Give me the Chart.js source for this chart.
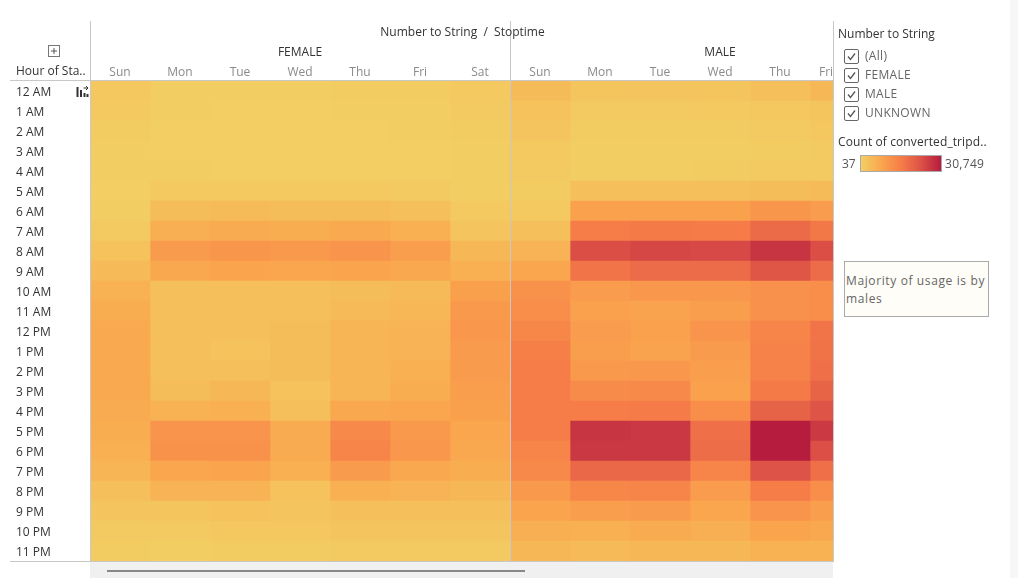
<!DOCTYPE html>
<html>
<head>
<meta charset="utf-8">
<script src="https://cdn.jsdelivr.net/npm/chart.js@4"></script>
<style>
body { margin: 0; background: #fff; font-family: "Open Sans", sans-serif; font-size: 12px; color: #333; overflow: hidden; }
.abs { position: absolute; white-space: nowrap; line-height: 16px; }
#plot { position: absolute; left: 0; top: 0; width: 834px; height: 562px; overflow: hidden; }
.check { position: absolute; left: 844px; width: 13px; height: 13px; border: 1px solid #666; border-radius: 2px; }
.check svg { display: block; }
</style>
</head>
<body>
<div id="plot"><canvas id="heat" width="930" height="562"></canvas></div>

<div class="abs" style="left:91px;width:743px;top:24px;text-align:center;color:#333">Number to String&nbsp; /&nbsp; Stoptime</div>
<div class="abs" style="left:16px;top:63px;color:#333">Hour of Sta..</div>
<div class="abs" style="left:819px;top:64px;width:14px;overflow:hidden;color:#8a8a8a">Fri</div>
<svg class="abs" style="left:48px;top:45px" width="13" height="13"><rect x="0.5" y="0.5" width="11" height="11" fill="none" stroke="#777"/><path d="M3 6h6M6 3v6" stroke="#555"/></svg>
<svg class="abs" style="left:76px;top:85px" width="13" height="13"><path d="M1.5 2v10M5 5v7M8.5 8v4M11.5 9v3" stroke="#333" stroke-width="2"/><path d="M7.5 3h4M10 1l2 2-2 2" fill="none" stroke="#333"/></svg>

<div class="abs" style="left:90px;top:562px;width:743px;height:16px;background:#f0f0f0"></div>
<div class="abs" style="left:107px;top:570px;width:418px;height:2px;background:#888"></div>
<div class="abs" style="left:1010px;top:0;width:8px;height:578px;background:#f7f7f7"></div>

<div class="abs" style="left:838px;top:26px;color:#333">Number to String</div>
<div id="filters"></div>
<div class="abs" style="left:838px;top:134px;color:#333;letter-spacing:0.1px">Count of converted_tripd..</div>
<div class="abs" style="left:842px;top:156px;color:#555">37</div>
<div class="abs" id="ramp" style="left:860px;top:155px;width:80px;height:15px;border:1px solid #aaa"></div>
<div class="abs" style="left:945px;top:156px;color:#555;letter-spacing:0.3px">30,749</div>
<div class="abs" style="left:844px;top:261px;width:143px;height:54px;border:1px solid #aaa;background:#fffdf7;color:#666;white-space:normal">
  <div style="padding:10px 0 0 1px;line-height:18px;letter-spacing:0.62px">Majority of usage is by males</div>
</div>

<script>
const hours = ["12 AM", "1 AM", "2 AM", "3 AM", "4 AM", "5 AM", "6 AM", "7 AM", "8 AM", "9 AM", "10 AM", "11 AM",
    "12 PM", "1 PM", "2 PM", "3 PM", "4 PM", "5 PM", "6 PM", "7 PM", "8 PM", "9 PM", "10 PM", "11 PM"];
const dayLabels = ["Sun", "Mon", "Tue", "Wed", "Thu", "Fri", "Sat", "Sun", "Mon", "Tue", "Wed", "Thu", "Fri", "Sat"];
const groupLabels = ["FEMALE", "MALE"];
const filterLabels = ["(All)", "FEMALE", "MALE", "UNKNOWN"];

// counts, the scale runs 37 to 30,749
const femaleSun = [1540, 1230, 620, 310, 310, 150, 310, 920, 2460, 4000, 5530, 6460, 7070, 7070, 7070, 7070, 6760, 6460, 5840, 4920, 3070, 1850, 920, 620];
const femaleMon = [310, 310, 150, 150, 310, 1230, 3380, 6150, 9840, 7380, 2770, 2770, 3070, 3070, 3070, 3380, 5530, 11070, 11380, 7690, 5230, 2150, 920, 310];
const femaleTue = [310, 150, 150, 150, 150, 1230, 3690, 6760, 10760, 8000, 3070, 3070, 2770, 2460, 3070, 4300, 5840, 11070, 11380, 8000, 5230, 2460, 1540, 620];
const femaleWed = [310, 150, 150, 150, 150, 1230, 3380, 6460, 10150, 7690, 3070, 2770, 3380, 3380, 3380, 2460, 2770, 6760, 6760, 5840, 2460, 1850, 1540, 620];
const femaleThu = [620, 310, 150, 150, 150, 1230, 3380, 7070, 11070, 8000, 3380, 4000, 4920, 4920, 4920, 4920, 7380, 13220, 13840, 9840, 5840, 2770, 1850, 920];
const femaleFri = [620, 310, 310, 150, 150, 920, 3070, 5840, 9220, 7380, 4000, 4610, 5230, 5230, 5840, 6460, 7690, 10150, 10460, 7380, 5230, 2770, 1850, 920];
const femaleSat = [1230, 920, 620, 310, 310, 310, 1230, 1850, 4300, 5840, 8900, 10150, 10460, 9840, 9840, 9220, 8900, 7690, 7380, 6460, 4300, 2770, 1850, 920];
const maleSun = [3690, 2460, 1850, 1230, 920, 620, 1230, 2770, 5230, 7690, 11380, 12300, 13530, 15070, 15370, 15370, 15370, 15370, 14140, 12920, 10150, 8000, 6150, 4300];
const maleMon = [2150, 920, 620, 310, 460, 2770, 8610, 15370, 23500, 16910, 9530, 8610, 9530, 9220, 10150, 12610, 15500, 27060, 26750, 19060, 13530, 9220, 5840, 4000];
const maleTue = [1850, 920, 620, 460, 460, 3070, 8610, 16000, 24500, 18450, 10460, 8300, 8610, 8300, 10460, 12920, 15800, 26750, 26750, 19060, 13840, 9840, 6760, 4300];
const maleWed = [2150, 1230, 620, 460, 620, 2770, 8610, 15700, 24200, 18450, 10460, 9220, 11070, 9840, 9220, 8610, 12300, 17840, 18140, 13840, 9530, 7690, 6150, 4300];
const maleThu = [2770, 1540, 920, 620, 920, 3380, 10760, 18760, 27060, 22140, 11690, 11690, 13840, 14450, 14450, 15990, 19990, 30749, 30749, 22750, 15370, 11070, 8000, 5530];
const maleFri = [4300, 2150, 1540, 920, 920, 3690, 9530, 16300, 23500, 18450, 12300, 12300, 16910, 17220, 17840, 19680, 22450, 26440, 23370, 17840, 12300, 9220, 7380, 5530];

const columns = [femaleSun, femaleMon, femaleTue, femaleWed, femaleThu, femaleFri, femaleSat,
    maleSun, maleMon, maleTue, maleWed, maleThu, maleFri];

const colorMin = 37;
const colorMax = 30749;
const rampStops = [[242, 207, 99], [250, 166, 78], [246, 125, 72], [220, 81, 71], [182, 28, 62]];

function colorFor(value) {
    const t = Math.min(1, Math.max(0, (value - colorMin) / (colorMax - colorMin))) * (rampStops.length - 1);
    const i = Math.min(rampStops.length - 2, Math.floor(t));
    const f = t - i;
    const c = rampStops[i].map((v, k) => Math.round(v + (rampStops[i + 1][k] - v) * f));
    return "rgb(" + c.join(",") + ")";
}

document.getElementById("ramp").style.background =
    "linear-gradient(to right," + rampStops.map(c => "rgb(" + c.join(",") + ")").join(",") + ")";

// sidebar checkboxes
let filterHtml = "";
filterLabels.forEach((label, i) => {
    const top = 49 + i * 19;
    filterHtml += '<div class="check" style="top:' + top + 'px"><svg width="13" height="13"><path d="M3 6.5l2.5 3L10 3.5" fill="none" stroke="#555" stroke-width="1.3"/></svg></div>';
    filterHtml += '<div class="abs" style="left:865px;top:' + (top - 1) + 'px;color:#666;letter-spacing:0.3px">' + label + '</div>';
});
document.getElementById("filters").innerHTML = filterHtml;

// pane borders and header rules
const paneLines = {
    id: "paneLines",
    afterDraw(chart) {
        const c = chart.ctx;
        const x = chart.scales.x;
        const area = chart.chartArea;
        c.save();
        c.lineWidth = 1;
        c.strokeStyle = "#c8c8c8";
        [[10, area.top - 0.5, 834, area.top - 0.5], [10, area.bottom + 0.5, 834, area.bottom + 0.5],
            [x.getPixelForValue(0) + 0.5, 21, x.getPixelForValue(0) + 0.5, area.bottom],
            [x.getPixelForValue(7) + 0.5, 21, x.getPixelForValue(7) + 0.5, area.bottom],
            [833.5, 21, 833.5, area.bottom]].forEach(l => {
            c.beginPath();
            c.moveTo(l[0], l[1]);
            c.lineTo(l[2], l[3]);
            c.stroke();
        });
        c.restore();
    },
};

const chart = new Chart(document.getElementById("heat"), {
    type: "bar",
    data: {
        labels: hours,
        datasets: columns.map((values, i) => ({
            label: dayLabels[i],
            data: hours.map(() => 1),
            counts: values,
            backgroundColor: values.map(colorFor),
            borderWidth: 0,
            barPercentage: 1,
            categoryPercentage: 1,
        })),
    },
    options: {
        indexAxis: "y",
        responsive: false,
        animation: false,
        layout: { padding: { left: 16, right: 0, top: 0, bottom: 1 } },
        plugins: {
            legend: { display: false },
            tooltip: { enabled: false },
        },
        scales: {
            x: { type: "linear", stacked: true, min: 0, max: 14, display: false },
            y: {
                stacked: true,
                grid: { display: false, drawTicks: false },
                border: { display: false },
                ticks: { crossAlign: "far", color: "#333", padding: 0, labelOffset: 2, autoSkip: false, font: { family: "Open Sans", size: 12 } },
                afterFit(scale) {
                    scale.width = 74;
                    scale.paddingTop = 0;
                    scale.paddingBottom = 0;
                },
            },
            days: {
                type: "category",
                axis: "x",
                position: "top",
                weight: 1,
                labels: dayLabels,
                offset: true,
                grid: { display: false, drawTicks: false },
                border: { display: false },
                ticks: {
                    // the last visible Fri is cut by the pane edge, it gets its own label above
                    color: ctx => (ctx.index >= 12 ? "rgba(0,0,0,0)" : "#8a8a8a"),
                    padding: 1,
                    autoSkip: false,
                    maxRotation: 0,
                    font: { family: "Open Sans", size: 12 },
                },
                afterFit(scale) { scale.height = 20; },
            },
            groups: {
                type: "category",
                axis: "x",
                position: "top",
                weight: 2,
                labels: groupLabels,
                offset: true,
                grid: { display: false, drawTicks: false },
                border: { display: false },
                ticks: { color: "#333", padding: 1, autoSkip: false, maxRotation: 0, font: { family: "Open Sans", size: 12 } },
                afterFit(scale) { scale.height = 61; },
            },
        },
    },
    plugins: [paneLines],
});
</script>
</body>
</html>
